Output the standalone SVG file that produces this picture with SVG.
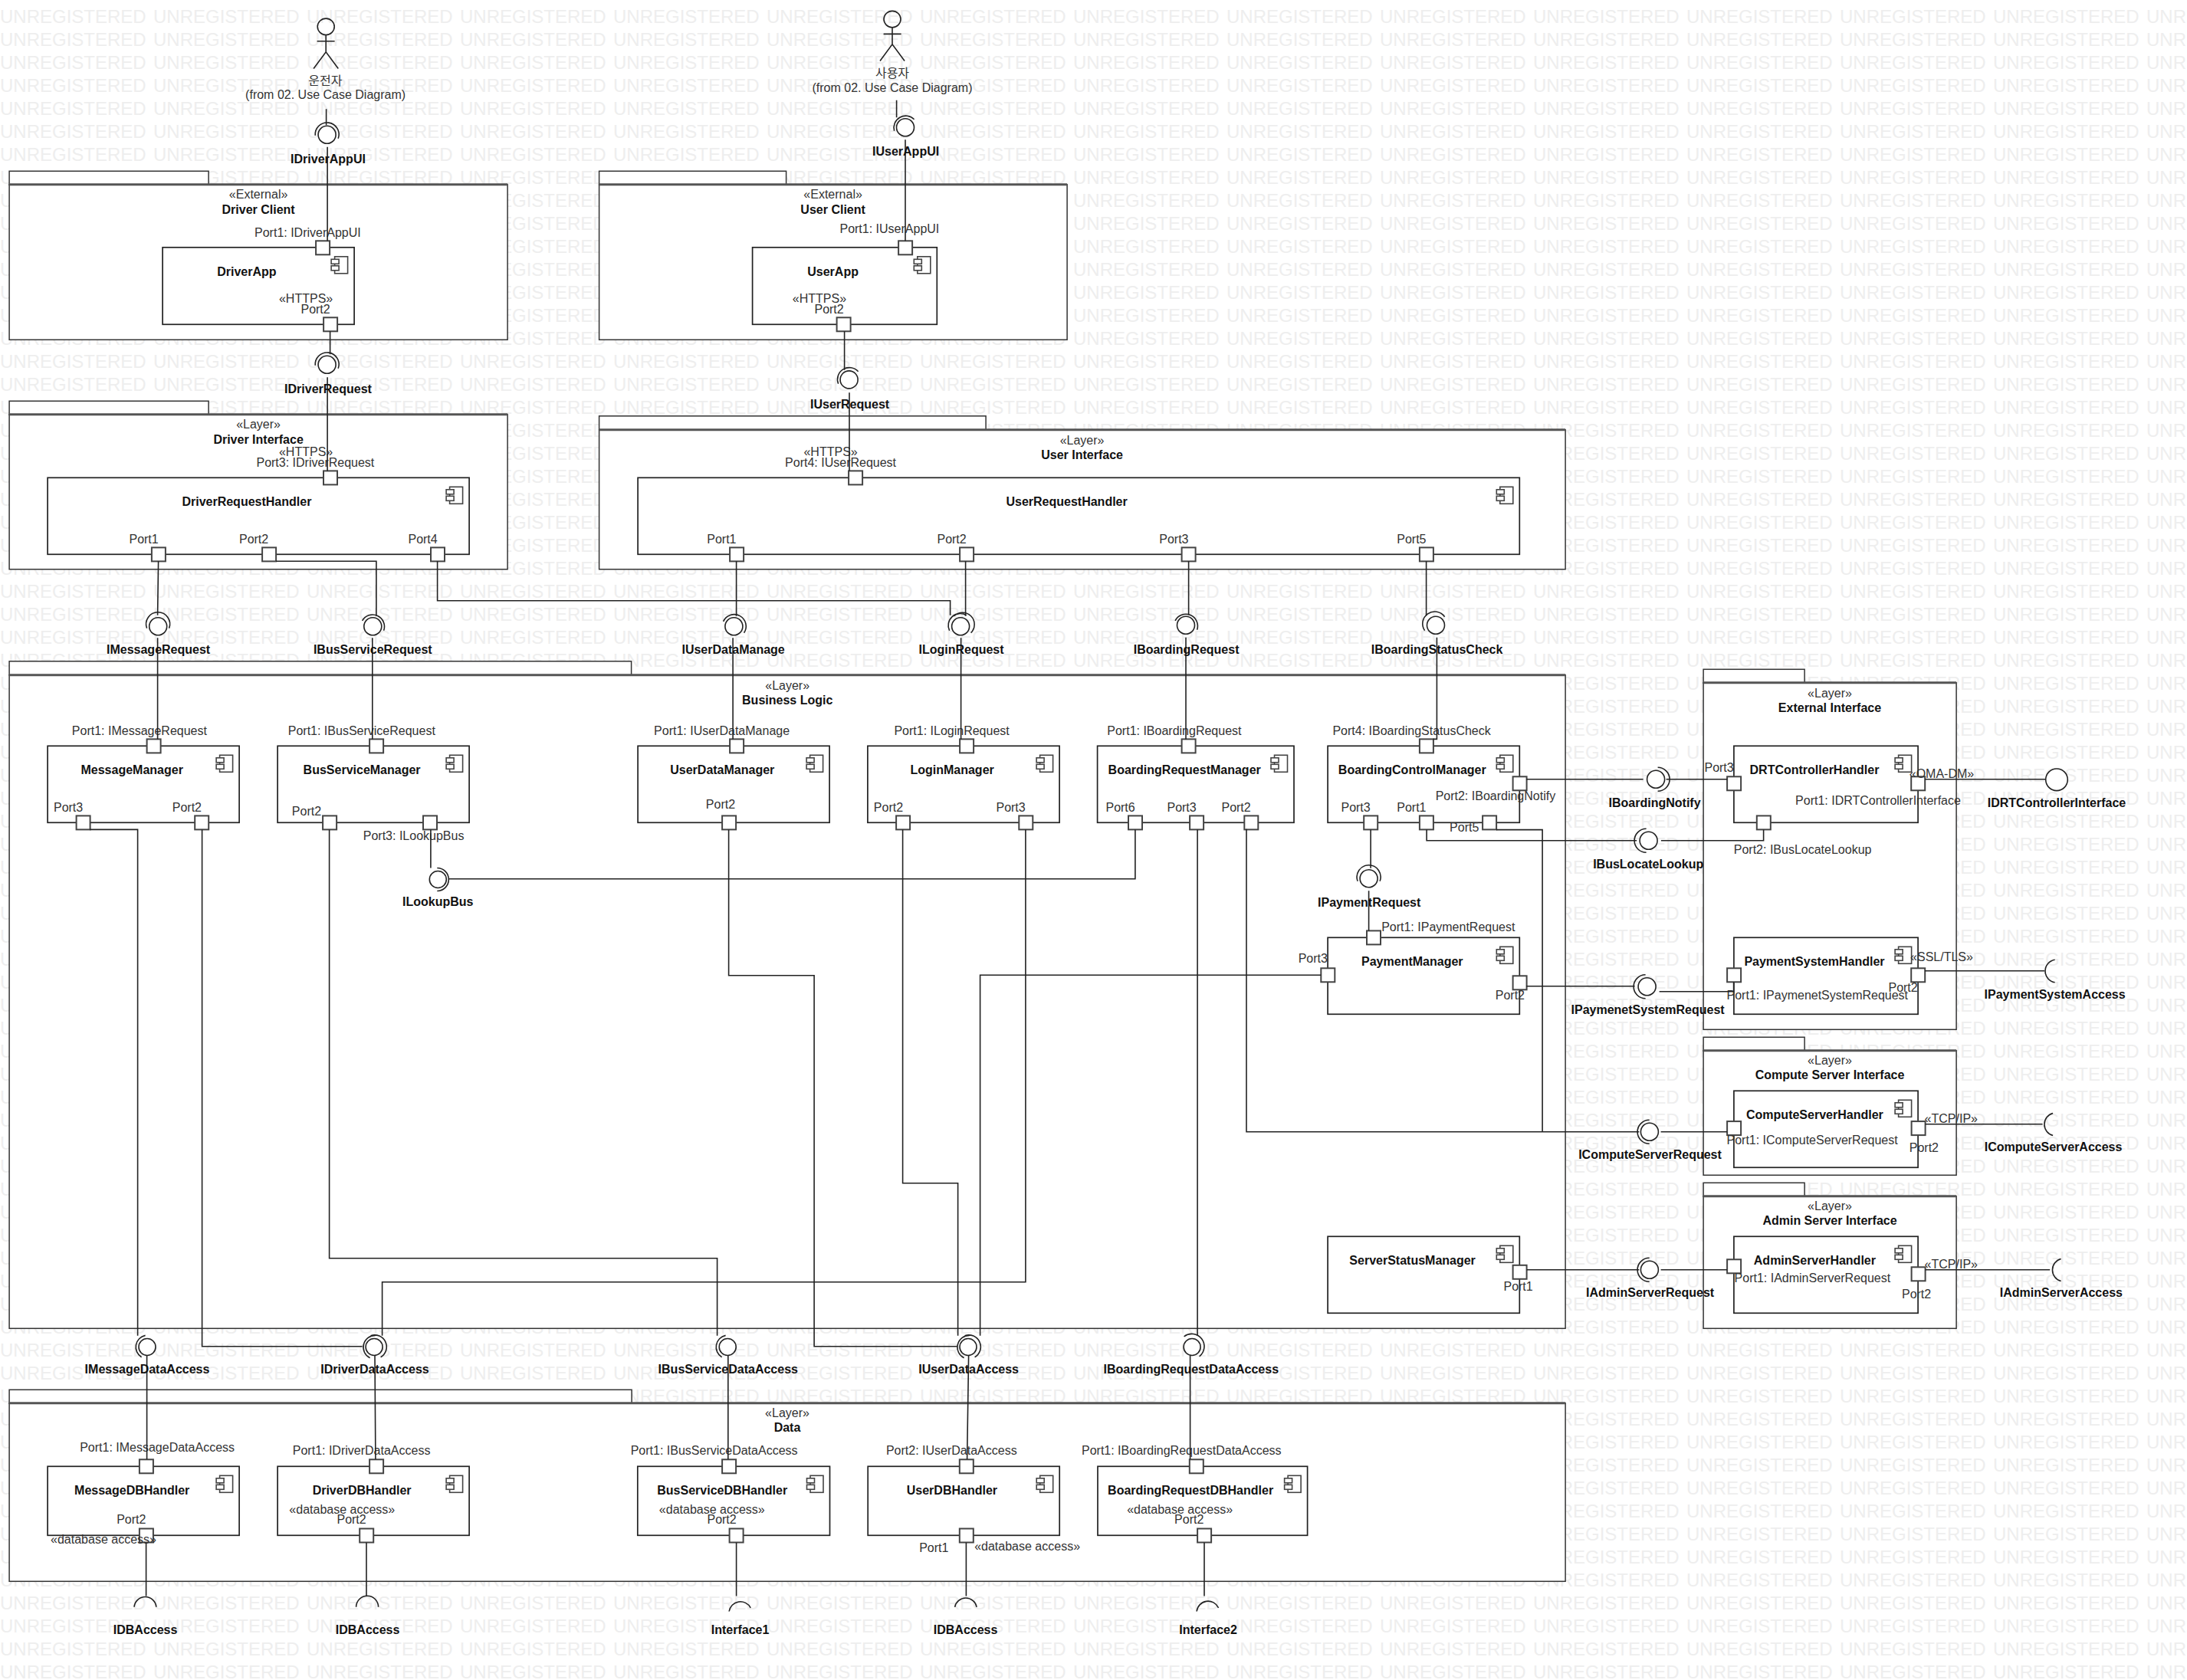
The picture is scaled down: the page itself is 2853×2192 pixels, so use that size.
<svg xmlns="http://www.w3.org/2000/svg" xmlns:xlink="http://www.w3.org/1999/xlink" width="2853" height="2192" viewBox="0 0 2853 2192">
<style>
text{font-family:"Liberation Sans","Noto Sans CJK KR",sans-serif;font-size:16px;text-anchor:middle}
.t{fill:#333}
.b{fill:#111;font-weight:bold}
.w{font-size:24px;fill:#eeeeee;text-anchor:start}
.p{fill:#fff;stroke:#333;stroke-width:1.5}
.ph{fill:none;stroke:#555;stroke-width:3}
.c{fill:#fff;stroke:#222;stroke-width:1.7}
.pt{fill:#fff;stroke:#444;stroke-width:2}
.l{fill:none;stroke:#222;stroke-width:1.6}
.i{fill:#fff;stroke:#222;stroke-width:1.6}
.s{fill:none;stroke:#222;stroke-width:1.6}
.ic{fill:#fff;stroke:#444;stroke-width:1.6}
</style>
<defs>
<g id="ic"><rect class="ic" x="4.5" y="0" width="17" height="22"/><rect class="ic" x="0" y="3.5" width="10" height="6"/><rect class="ic" x="0" y="12" width="10" height="6"/></g>
<g id="wr"><text class="w" x="0">UNREGISTERED</text><text class="w" x="200">UNREGISTERED</text><text class="w" x="400">UNREGISTERED</text><text class="w" x="600">UNREGISTERED</text><text class="w" x="800">UNREGISTERED</text><text class="w" x="1000">UNREGISTERED</text><text class="w" x="1200">UNREGISTERED</text><text class="w" x="1400">UNREGISTERED</text><text class="w" x="1600">UNREGISTERED</text><text class="w" x="1800">UNREGISTERED</text><text class="w" x="2000">UNREGISTERED</text><text class="w" x="2200">UNREGISTERED</text><text class="w" x="2400">UNREGISTERED</text><text class="w" x="2600">UNREGISTERED</text><text class="w" x="2800">UNREGISTERED</text></g>
<g id="wb"><use xlink:href="#wr" href="#wr" y="30"/><use xlink:href="#wr" href="#wr" y="60"/><use xlink:href="#wr" href="#wr" y="90"/><use xlink:href="#wr" href="#wr" y="120"/><use xlink:href="#wr" href="#wr" y="150"/><use xlink:href="#wr" href="#wr" y="180"/><use xlink:href="#wr" href="#wr" y="210"/><use xlink:href="#wr" href="#wr" y="240"/><use xlink:href="#wr" href="#wr" y="270"/><use xlink:href="#wr" href="#wr" y="300"/></g>
</defs>
<rect width="2853" height="2192" fill="#fff"/>
<g id="watermark"><use href="#wb" y="0"/><use href="#wb" y="300"/><use href="#wb" y="600"/><use href="#wb" y="900"/><use href="#wb" y="1200"/><use href="#wb" y="1500"/><use href="#wb" y="1800"/><use href="#wb" y="2100"/></g>
<g id="diagram" transform="translate(-0.4 0.8)">
<g id="pkg-driver-client"><rect class="p" x="12.5" y="222.5" width="260" height="18"/><rect class="p" x="12.5" y="240" width="650" height="202.5"/><path class="ph" d="M12.5 240H662.5"/><text class="t" x="337.5" y="258.6">«External»</text><text class="b" x="337.5" y="278">Driver Client</text></g>
<g id="pkg-user-client"><rect class="p" x="782" y="222.5" width="244" height="18"/><rect class="p" x="782" y="240" width="610.5" height="202.5"/><path class="ph" d="M782 240H1392.5"/><text class="t" x="1087" y="258.6">«External»</text><text class="b" x="1087" y="278">User Client</text></g>
<g id="pkg-driver-interface"><rect class="p" x="12.5" y="522.5" width="260" height="18"/><rect class="p" x="12.5" y="540" width="650" height="202"/><path class="ph" d="M12.5 540H662.5"/><text class="t" x="337.5" y="558.6">«Layer»</text><text class="b" x="337.5" y="578">Driver Interface</text></g>
<g id="pkg-user-interface"><rect class="p" x="782" y="542" width="504.5" height="18"/><rect class="p" x="782" y="560" width="1260.5" height="182"/><path class="ph" d="M782 560H2042.5"/><text class="t" x="1412" y="579">«Layer»</text><text class="b" x="1412" y="598">User Interface</text></g>
<g id="pkg-business-logic"><rect class="p" x="12.5" y="862" width="811.5" height="18"/><rect class="p" x="12.5" y="880" width="2030" height="852.5"/><path class="ph" d="M12.5 880H2042.5"/><text class="t" x="1027.6" y="899">«Layer»</text><text class="b" x="1027.6" y="918">Business Logic</text></g>
<g id="pkg-external-interface"><rect class="p" x="2222.5" y="872.5" width="132" height="18"/><rect class="p" x="2222.5" y="890" width="330" height="452.5"/><path class="ph" d="M2222.5 890H2552.5"/><text class="t" x="2387.4" y="909">«Layer»</text><text class="b" x="2387.4" y="928">External Interface</text></g>
<g id="pkg-compute-server-interface"><rect class="p" x="2222.5" y="1352.5" width="132" height="18"/><rect class="p" x="2222.5" y="1370" width="330" height="162.5"/><path class="ph" d="M2222.5 1370H2552.5"/><text class="t" x="2387.4" y="1388.3">«Layer»</text><text class="b" x="2387.4" y="1407.7">Compute Server Interface</text></g>
<g id="pkg-admin-server-interface"><rect class="p" x="2222.5" y="1542.5" width="132" height="18"/><rect class="p" x="2222.5" y="1560" width="330" height="172.5"/><path class="ph" d="M2222.5 1560H2552.5"/><text class="t" x="2387.4" y="1578.3">«Layer»</text><text class="b" x="2387.4" y="1597.7">Admin Server Interface</text></g>
<g id="pkg-data"><rect class="p" x="12.5" y="1812.5" width="812" height="18"/><rect class="p" x="12.5" y="1830" width="2030" height="232.5"/><path class="ph" d="M12.5 1830H2042.5"/><text class="t" x="1027.4" y="1848.3">«Layer»</text><text class="b" x="1027.4" y="1867.3">Data</text></g>

<g id="actor-driver"><ellipse class="s" cx="425.6" cy="34" rx="11" ry="10.7"/><path class="s" d="M425.6 44.7V67M414 53H437M409.5 88.6L425.6 67L441.7 88.6"/><text class="t" x="424.7" y="110.7">운전자</text><text class="t" x="425" y="128.6">(from 02. Use Case Diagram)</text></g>
<g id="actor-user"><ellipse class="s" cx="1164.4" cy="24.3" rx="11" ry="10.7"/><path class="s" d="M1164.4 35V57M1153 43.6H1176M1148.4 78.6L1164.4 57L1180.5 78.6"/><text class="t" x="1164.4" y="100.7">사용자</text><text class="t" x="1164.4" y="119">(from 02. Use Case Diagram)</text></g>

<g id="DriverApp"><rect class="c" x="212.5" y="322" width="250" height="100.5"/><use href="#ic" x="432.5" y="334"/><text class="b" x="322.3" y="359">DriverApp</text><rect class="pt" x="412.5" y="313.5" width="18" height="18"/><rect class="pt" x="422.5" y="413.5" width="18" height="18"/><text class="t" x="401.8" y="308">Port1: IDriverAppUI</text><text class="t" x="399.5" y="394.6">«HTTPS»</text><text class="t" x="412" y="408">Port2</text></g>
<g id="UserApp"><rect class="c" x="982" y="322" width="240.7" height="100.5"/><use href="#ic" x="1192.7" y="334"/><text class="b" x="1087" y="359">UserApp</text><rect class="pt" x="1172.5" y="313.5" width="18" height="18"/><rect class="pt" x="1092" y="413.5" width="18" height="18"/><text class="t" x="1160.8" y="302.9">Port1: IUserAppUI</text><text class="t" x="1069.4" y="394.6">«HTTPS»</text><text class="t" x="1082" y="408">Port2</text></g>
<g id="DriverRequestHandler"><rect class="c" x="62.5" y="622.5" width="550" height="100"/><use href="#ic" x="582.5" y="634.5"/><text class="b" x="322.3" y="659">DriverRequestHandler</text><rect class="pt" x="422.4" y="613.6" width="18" height="18"/><rect class="pt" x="198.3" y="713.6" width="18" height="18"/><rect class="pt" x="342.5" y="713.6" width="18" height="18"/><rect class="pt" x="562.4" y="713.6" width="18" height="18"/><text class="t" x="399.5" y="594.3">«HTTPS»</text><text class="t" x="411.8" y="608">Port3: IDriverRequest</text><text class="t" x="188" y="708">Port1</text><text class="t" x="331.5" y="708">Port2</text><text class="t" x="552" y="708">Port4</text></g>
<g id="UserRequestHandler"><rect class="c" x="832.5" y="622.5" width="1150.2" height="100"/><use href="#ic" x="1952.7" y="634.5"/><text class="b" x="1392" y="659">UserRequestHandler</text><rect class="pt" x="1107.5" y="613.6" width="18" height="18"/><rect class="pt" x="952.5" y="713.6" width="18" height="18"/><rect class="pt" x="1252.5" y="713.6" width="18" height="18"/><rect class="pt" x="1542" y="713.6" width="18" height="18"/><rect class="pt" x="1852.3" y="713.6" width="18" height="18"/><text class="t" x="1084" y="594.3">«HTTPS»</text><text class="t" x="1097" y="608">Port4: IUserRequest</text><text class="t" x="941.8" y="708">Port1</text><text class="t" x="1242" y="708">Port2</text><text class="t" x="1531.8" y="708">Port3</text><text class="t" x="1841.8" y="708">Port5</text></g>

<g id="MessageManager"><rect class="c" x="62.5" y="972.5" width="250" height="100"/><use href="#ic" x="282.5" y="984.5"/><text class="b" x="172.6" y="1009">MessageManager</text><rect class="pt" x="192" y="963.6" width="18" height="18"/><rect class="pt" x="100" y="1063.6" width="18" height="18"/><rect class="pt" x="254.6" y="1063.6" width="18" height="18"/><text class="t" x="182.3" y="958">Port1: IMessageRequest</text><text class="t" x="89.5" y="1058">Port3</text><text class="t" x="244.3" y="1058">Port2</text></g>
<g id="BusServiceManager"><rect class="c" x="362.5" y="972.5" width="250" height="100"/><use href="#ic" x="582.5" y="984.5"/><text class="b" x="472.5" y="1009">BusServiceManager</text><rect class="pt" x="482.5" y="963.6" width="18" height="18"/><rect class="pt" x="421.5" y="1063.6" width="18" height="18"/><rect class="pt" x="552.4" y="1063.6" width="18" height="18"/><text class="t" x="472.2" y="958">Port1: IBusServiceRequest</text><text class="t" x="400.4" y="1063">Port2</text><text class="t" x="540" y="1095">Port3: ILookupBus</text></g>
<g id="UserDataManager"><rect class="c" x="832.5" y="972.5" width="250" height="100"/><use href="#ic" x="1052.5" y="984.5"/><text class="b" x="942.7" y="1009">UserDataManager</text><rect class="pt" x="952.5" y="963.6" width="18" height="18"/><rect class="pt" x="942.5" y="1063.6" width="18" height="18"/><text class="t" x="942" y="958">Port1: IUserDataManage</text><text class="t" x="940.4" y="1054.6">Port2</text></g>
<g id="LoginManager"><rect class="c" x="1132.3" y="972.5" width="250.2" height="100"/><use href="#ic" x="1352.5" y="984.5"/><text class="b" x="1242.5" y="1009">LoginManager</text><rect class="pt" x="1252.5" y="963.6" width="18" height="18"/><rect class="pt" x="1169.5" y="1063.6" width="18" height="18"/><rect class="pt" x="1329.7" y="1063.6" width="18" height="18"/><text class="t" x="1242" y="958">Port1: ILoginRequest</text><text class="t" x="1159.4" y="1058">Port2</text><text class="t" x="1319" y="1058">Port3</text></g>
<g id="BoardingRequestManager"><rect class="c" x="1432" y="972.5" width="256.4" height="100"/><use href="#ic" x="1658.4" y="984.5"/><text class="b" x="1545.6" y="1009">BoardingRequestManager</text><rect class="pt" x="1542" y="963.6" width="18" height="18"/><rect class="pt" x="1472.4" y="1063.6" width="18" height="18"/><rect class="pt" x="1552.5" y="1063.6" width="18" height="18"/><rect class="pt" x="1623.7" y="1063.6" width="18" height="18"/><text class="t" x="1532.3" y="958">Port1: IBoardingRequest</text><text class="t" x="1462" y="1058">Port6</text><text class="t" x="1542" y="1058">Port3</text><text class="t" x="1613" y="1058">Port2</text></g>
<g id="BoardingControlManager"><rect class="c" x="1732.5" y="972.5" width="250.2" height="100"/><use href="#ic" x="1952.7" y="984.5"/><text class="b" x="1842.7" y="1009">BoardingControlManager</text><rect class="pt" x="1852.3" y="963.6" width="18" height="18"/><rect class="pt" x="1974" y="1012.5" width="18" height="18"/><rect class="pt" x="1779.6" y="1063.6" width="18" height="18"/><rect class="pt" x="1852.3" y="1063.6" width="18" height="18"/><rect class="pt" x="1934.5" y="1063.6" width="18" height="18"/><text class="t" x="1842" y="958">Port4: IBoardingStatusCheck</text><text class="t" x="1951.3" y="1043.6">Port2: IBoardingNotify</text><text class="t" x="1769" y="1058">Port3</text><text class="t" x="1841.8" y="1058">Port1</text><text class="t" x="1910.6" y="1084">Port5</text></g>
<g id="PaymentManager"><rect class="c" x="1732.5" y="1222.5" width="250.2" height="100"/><use href="#ic" x="1952.7" y="1234.5"/><text class="b" x="1842.7" y="1259">PaymentManager</text><rect class="pt" x="1783.4" y="1213.6" width="18" height="18"/><rect class="pt" x="1723.7" y="1262.5" width="18" height="18"/><rect class="pt" x="1974" y="1272.5" width="18" height="18"/><text class="t" x="1889.7" y="1214">Port1: IPaymentRequest</text><text class="t" x="1713.2" y="1255.4">Port3</text><text class="t" x="1970.3" y="1303.6">Port2</text></g>
<g id="ServerStatusManager"><rect class="c" x="1732.5" y="1612.5" width="250.2" height="100"/><use href="#ic" x="1952.7" y="1624.5"/><text class="b" x="1843" y="1649">ServerStatusManager</text><rect class="pt" x="1974" y="1650" width="18" height="18"/><text class="t" x="1981" y="1683">Port1</text></g>

<g id="DRTControllerHandler"><rect class="c" x="2262.3" y="972.5" width="240.2" height="100"/><use href="#ic" x="2472.5" y="984.5"/><text class="b" x="2367.4" y="1009">DRTControllerHandler</text><rect class="pt" x="2253.5" y="1012.5" width="18" height="18"/><rect class="pt" x="2493.6" y="1012.5" width="18" height="18"/><rect class="pt" x="2292.2" y="1063.6" width="18" height="18"/><text class="t" x="2243" y="1006">Port3</text><text class="t" x="2533.4" y="1014">«OMA-DM»</text><text class="t" x="2450.4" y="1049">Port1: IDRTControllerInterface</text><text class="t" x="2352" y="1113">Port2: IBusLocateLookup</text></g>
<g id="PaymentSystemHandler"><rect class="c" x="2262.3" y="1222.5" width="240.2" height="100"/><use href="#ic" x="2472.5" y="1234.5"/><text class="b" x="2367.4" y="1259">PaymentSystemHandler</text><rect class="pt" x="2253.5" y="1262.5" width="18" height="18"/><rect class="pt" x="2493.6" y="1262.5" width="18" height="18"/><text class="t" x="2371.2" y="1303">Port1: IPaymenetSystemRequest</text><text class="t" x="2533.4" y="1253.6">«SSL/TLS»</text><text class="t" x="2483" y="1293.6">Port2</text></g>
<g id="ComputeServerHandler"><rect class="c" x="2262.3" y="1422.5" width="240.2" height="100"/><use href="#ic" x="2472.5" y="1434.5"/><text class="b" x="2367.8" y="1459">ComputeServerHandler</text><rect class="pt" x="2253.5" y="1462.3" width="18" height="18"/><rect class="pt" x="2494" y="1462.3" width="18" height="18"/><text class="t" x="2364.5" y="1492.7">Port1: IComputeServerRequest</text><text class="t" x="2545.7" y="1464">«TCP/IP»</text><text class="t" x="2510.3" y="1502.7">Port2</text></g>
<g id="AdminServerHandler"><rect class="c" x="2262.3" y="1612.5" width="240.2" height="100"/><use href="#ic" x="2472.5" y="1624.5"/><text class="b" x="2367.8" y="1649">AdminServerHandler</text><rect class="pt" x="2253.5" y="1642.5" width="18" height="18"/><rect class="pt" x="2494" y="1652.5" width="18" height="18"/><text class="t" x="2364.8" y="1672.3">Port1: IAdminServerRequest</text><text class="t" x="2545.7" y="1654">«TCP/IP»</text><text class="t" x="2500.5" y="1693.3">Port2</text></g>

<g id="MessageDBHandler"><rect class="c" x="62.5" y="1912.5" width="250" height="90"/><use href="#ic" x="282.5" y="1924.5"/><text class="b" x="172.6" y="1949">MessageDBHandler</text><rect class="pt" x="182.3" y="1903.5" width="18" height="18"/><rect class="pt" x="182.3" y="1993.7" width="18" height="18"/><text class="t" x="205.5" y="1893.3">Port1: IMessageDataAccess</text><text class="t" x="171.7" y="1987.7">Port2</text><text class="t" x="135.4" y="2013.7">«database access»</text></g>
<g id="DriverDBHandler"><rect class="c" x="362.5" y="1912.5" width="250" height="90"/><use href="#ic" x="582.5" y="1924.5"/><text class="b" x="472.5" y="1949">DriverDBHandler</text><rect class="pt" x="482.5" y="1903.5" width="18" height="18"/><rect class="pt" x="469.6" y="1993.7" width="18" height="18"/><text class="t" x="472" y="1897.7">Port1: IDriverDataAccess</text><text class="t" x="446.7" y="1974.3">«database access»</text><text class="t" x="459" y="1987.7">Port2</text></g>
<g id="BusServiceDBHandler"><rect class="c" x="832.2" y="1912.5" width="250.7" height="90"/><use href="#ic" x="1052.9" y="1924.5"/><text class="b" x="942.6" y="1949">BusServiceDBHandler</text><rect class="pt" x="942.5" y="1903.5" width="18" height="18"/><rect class="pt" x="952" y="1993.7" width="18" height="18"/><text class="t" x="932" y="1897.7">Port1: IBusServiceDataAccess</text><text class="t" x="929.2" y="1974.3">«database access»</text><text class="t" x="942" y="1987.7">Port2</text></g>
<g id="UserDBHandler"><rect class="c" x="1132.6" y="1912.5" width="250" height="90"/><use href="#ic" x="1352.6" y="1924.5"/><text class="b" x="1242.3" y="1949">UserDBHandler</text><rect class="pt" x="1252.2" y="1903.5" width="18" height="18"/><rect class="pt" x="1252.2" y="1993.7" width="18" height="18"/><text class="t" x="1241.7" y="1897.7">Port2: IUserDataAccess</text><text class="t" x="1218.7" y="2024">Port1</text><text class="t" x="1340.5" y="2022.7">«database access»</text></g>
<g id="BoardingRequestDBHandler"><rect class="c" x="1432.4" y="1912.5" width="273.6" height="90"/><use href="#ic" x="1676" y="1924.5"/><text class="b" x="1553.5" y="1949">BoardingRequestDBHandler</text><rect class="pt" x="1552.2" y="1903.5" width="18" height="18"/><rect class="pt" x="1562.5" y="1993.7" width="18" height="18"/><text class="t" x="1541.7" y="1897.7">Port1: IBoardingRequestDataAccess</text><text class="t" x="1539.5" y="1974.3">«database access»</text><text class="t" x="1551.6" y="1987.7">Port2</text></g>

<g id="connectors" class="l">
<path d="M426 141.4V162.5M427.5 191V313.5M431 431.5V461.4M427.5 491.4V613.6M1170 130V152.5M1181.4 181.4V313.5M1102 431.5V482M1108.4 511.4V613.6"/>
<path d="M207 731.4L206 802M206 831.4V963.6M360.4 731.4H491.3V803M486.2 831.4V963.6M571 731.4V783H1240V802"/>
<path d="M961 731.4V803M956.5 831.4V963.6M1260 731.4V803M1254 831.4V963.6M1551 731.4V801.7M1547.4 831V963.6M1861 731.4V802.7M1874.8 831V963.6H1870"/>
<path d="M117.5 1081.6H180V1742M264 1081.6V1756H473M430 1081.6V1641H936V1742M562.3 1081.7V1131.7M586 1146H1481.3V1081.6"/>
<path d="M951 1081.6V1272H1062.5V1756H1249M1178 1081.6V1543H1250V1742M1338.3 1081.6V1672H499V1742M1562.5 1081.6V1742M1626.4 1081V1476H2138.7"/>
<path d="M1788.5 1081.6V1132M1786 1161.4V1213.6M1861.5 1081.6V1096H2135.6M1952.4 1081.8H2012.5V1476M1991.4 1016H2144M2174 1016H2253.7M2167.3 1096H2301V1081.6"/>
<path d="M1279 1742V1271.4H1723.7M1991.4 1286H2133M2165 1293H2262V1280.4M2511.5 1016H2669M2511.5 1266H2667.5M2512 1466H2665M2167 1476H2253.5M1992 1656H2138.7M2167 1656H2253.5M2512 1656H2674.6"/>
<path d="M192 1767.7V1903.3M489.4 1767.7L490.3 1903.3M950.2 1767.7V1903.3M1264 1767.7L1262 1903.3M1553 1767.7V1903.3M191 2012V2081.7M478.4 2012V2081.7M961 2012V2081.7M1260.8 2012V2081.7M1571.4 2012V2081.7"/>
</g>

<g id="IDriverAppUI"><circle class="i" cx="427" cy="175" r="11.5"/><path class="s" d="M411.6 176A15.5 15.5 0 1 1 441.6 180"/><text class="b" x="428.4" y="211.8">IDriverAppUI</text></g>
<g id="IUserAppUI"><circle class="i" cx="1181.4" cy="165.4" r="11.5"/><path class="s" d="M1167 170A15.5 15.5 0 0 1 1193 155"/><text class="b" x="1182" y="201.8">IUserAppUI</text></g>
<g id="IDriverRequest"><circle class="i" cx="427" cy="475" r="11.5"/><path class="s" d="M411.6 476A15.5 15.5 0 1 1 441.6 480"/><text class="b" x="428.4" y="511.8">IDriverRequest</text></g>
<g id="IUserRequest"><circle class="i" cx="1108" cy="494.6" r="11.5"/><path class="s" d="M1094 500A15.5 15.5 0 0 1 1120 484"/><text class="b" x="1109" y="532">IUserRequest</text></g>
<g id="IMessageRequest"><circle class="i" cx="206.6" cy="816.4" r="11.5"/><path class="s" d="M192 819A15.5 15.5 0 1 1 221 819"/><text class="b" x="207" y="852">IMessageRequest</text></g>
<g id="IBusServiceRequest"><circle class="i" cx="486.7" cy="816.4" r="11.5"/><path class="s" d="M473 809A15.5 15.5 0 0 1 501 822"/><text class="b" x="486.7" y="852">IBusServiceRequest</text></g>
<g id="IUserDataManage"><circle class="i" cx="957.8" cy="816.4" r="11.5"/><path class="s" d="M944 810A15.5 15.5 0 1 1 971 825"/><text class="b" x="957" y="852">IUserDataManage</text></g>
<g id="ILoginRequest"><circle class="i" cx="1253.5" cy="816.4" r="11.5"/><path class="s" d="M1239 822A15.5 15.5 0 0 1 1261 802M1245 803A15.5 15.5 0 0 1 1267 825"/><text class="b" x="1254.4" y="852">ILoginRequest</text></g>
<g id="IBoardingRequest"><circle class="i" cx="1547.4" cy="815" r="11.5"/><path class="s" d="M1533.5 809A15.5 15.5 0 0 1 1562 821"/><text class="b" x="1548" y="852">IBoardingRequest</text></g>
<g id="IBoardingStatusCheck"><circle class="i" cx="1873.4" cy="815" r="11.5"/><path class="s" d="M1859 822A15.5 15.5 0 0 1 1885 804"/><text class="b" x="1875" y="852">IBoardingStatusCheck</text></g>
<g id="ILookupBus"><circle class="i" cx="571.7" cy="1146.7" r="11"/><path class="s" d="M570.7 1131.7A15 15 0 1 1 570.7 1161.7"/><text class="b" x="571.7" y="1181.7">ILookupBus</text></g>
<g id="IPaymentRequest"><circle class="i" cx="1786" cy="1145.4" r="11.5"/><path class="s" d="M1771.5 1149A15.5 15.5 0 1 1 1800.5 1149"/><text class="b" x="1786.6" y="1182">IPaymentRequest</text></g>
<g id="IBoardingNotify"><circle class="i" cx="2160.5" cy="1016" r="11.5"/><path class="s" d="M2163 1000.5A15.5 15.5 0 0 1 2163 1031.5"/><text class="b" x="2159" y="1052.5">IBoardingNotify</text></g>
<g id="IBusLocateLookup"><circle class="i" cx="2151" cy="1096" r="11.5"/><path class="s" d="M2148 1080.5A15.5 15.5 0 0 0 2148 1111.5"/><text class="b" x="2150.6" y="1132.5">IBusLocateLookup</text></g>
<g id="IPaymenetSystemRequest"><circle class="i" cx="2149" cy="1286.4" r="11.5"/><path class="s" d="M2147 1271A15.5 15.5 0 0 0 2147 1302"/><text class="b" x="2150" y="1322">IPaymenetSystemRequest</text></g>
<g id="IComputeServerRequest"><circle class="i" cx="2152.3" cy="1476" r="11.5"/><path class="s" d="M2152 1460.5A15.5 15.5 0 0 0 2152 1491.5"/><text class="b" x="2152.9" y="1511.7">IComputeServerRequest</text></g>
<g id="IAdminServerRequest"><circle class="i" cx="2152.3" cy="1656" r="11.5"/><path class="s" d="M2152 1640.5A15.5 15.5 0 0 0 2152 1671.5"/><text class="b" x="2153" y="1691.7">IAdminServerRequest</text></g>
<g id="IDRTControllerInterface"><circle class="i" cx="2683.4" cy="1016.5" r="14.3"/><text class="b" x="2683.4" y="1052.5">IDRTControllerInterface</text></g>
<g id="IPaymentSystemAccess"><path class="s" d="M2681 1251.4A15 15 0 0 0 2681 1281"/><text class="b" x="2681" y="1302.5">IPaymentSystemAccess</text></g>
<g id="IComputeServerAccess"><path class="s" d="M2678.5 1451.7A15 15 0 0 0 2678.5 1480.7"/><text class="b" x="2679" y="1501.3">IComputeServerAccess</text></g>
<g id="IAdminServerAccess"><path class="s" d="M2689 1641.7A15 15 0 0 0 2689 1670.7"/><text class="b" x="2689.3" y="1691.7">IAdminServerAccess</text></g>

<g id="IMessageDataAccess"><circle class="i" cx="192.4" cy="1756.7" r="11"/><path class="s" d="M190 1741.6A15.5 15.5 0 0 0 185 1770"/><text class="b" x="192.4" y="1791.7">IMessageDataAccess</text></g>
<g id="IDriverDataAccess"><circle class="i" cx="488.5" cy="1756.7" r="11"/><path class="s" d="M490 1741.6A15.5 15.5 0 0 0 483 1771M484 1742A15.5 15.5 0 0 1 497 1770"/><text class="b" x="489.4" y="1791.7">IDriverDataAccess</text></g>
<g id="IBusServiceDataAccess"><circle class="i" cx="949.6" cy="1756.7" r="11"/><path class="s" d="M947 1741.6A15.5 15.5 0 0 0 942 1770"/><text class="b" x="950.2" y="1791.7">IBusServiceDataAccess</text></g>
<g id="IUserDataAccess"><circle class="i" cx="1263.4" cy="1756.7" r="11"/><path class="s" d="M1265 1741.6A15.5 15.5 0 0 0 1258 1771M1259 1742A15.5 15.5 0 0 1 1272 1770"/><text class="b" x="1264" y="1791.7">IUserDataAccess</text></g>
<g id="IBoardingRequestDataAccess"><circle class="i" cx="1555.5" cy="1756.7" r="11"/><path class="s" d="M1545 1743A15.5 15.5 0 0 1 1565 1769"/><text class="b" x="1554.2" y="1791.7">IBoardingRequestDataAccess</text></g>
<g id="IDBAccess-1"><path class="s" d="M175.4 2096A14.5 14.5 0 0 1 204.3 2096"/><text class="b" x="190" y="2131.7">IDBAccess</text></g>
<g id="IDBAccess-2"><path class="s" d="M465 2096A14.5 14.5 0 0 1 494 2096"/><text class="b" x="480" y="2131.7">IDBAccess</text></g>
<g id="Interface1"><path class="s" d="M951.5 2101.7A15 15 0 0 1 979.6 2097"/><text class="b" x="966" y="2131.7">Interface1</text></g>
<g id="IDBAccess-3"><path class="s" d="M1246 2096A14.5 14.5 0 0 1 1274.5 2096"/><text class="b" x="1260" y="2131.7">IDBAccess</text></g>
<g id="Interface2"><path class="s" d="M1561.5 2101.7A15 15 0 0 1 1590 2097"/><text class="b" x="1576.5" y="2131.7">Interface2</text></g>
</g>
</svg>
